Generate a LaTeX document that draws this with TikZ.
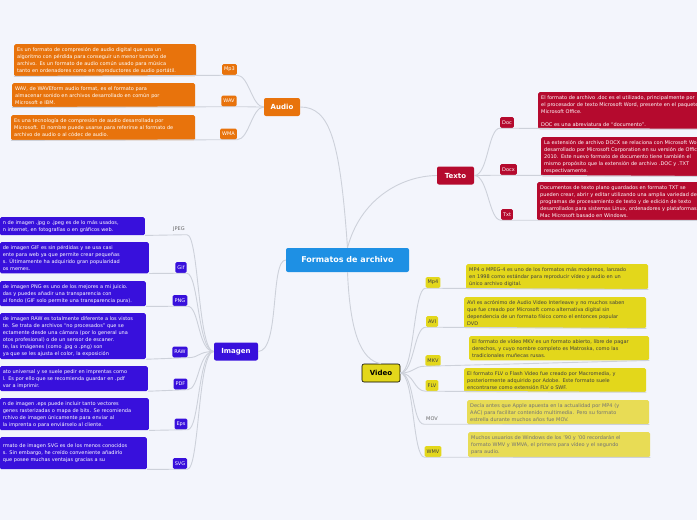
\documentclass[tikz,border=0pt]{standalone}
\usepackage{fontspec}
\setmainfont{DejaVu Sans}
\begin{document}
\begin{tikzpicture}[x=1pt,y=-1pt,
  desc/.style={anchor=north west,rounded corners=1.5pt,align=left,inner sep=3pt,font=\fontsize{5}{7}\selectfont,text=white},
  lab/.style={rounded corners=1.5pt,inner sep=2pt,font=\fontsize{5}{6}\selectfont,text=white,minimum height=11pt},
  main/.style={rounded corners=2pt,inner sep=3pt,font=\bfseries\fontsize{7}{8}\selectfont,text=white,minimum height=18pt},
  conn/.style={draw=lineg,line width=0.9pt},
]
\definecolor{bg}{HTML}{F3F5FC}
\definecolor{lineg}{HTML}{CDD1DA}
\definecolor{cblue}{HTML}{1E90E4}
\definecolor{corange}{HTML}{E8730C}
\definecolor{cviolet}{HTML}{3810DC}
\definecolor{cred}{HTML}{B50A2E}
\definecolor{cyel}{HTML}{E3D71B}
\definecolor{cyel2}{HTML}{E8DC55}
\clip (0,0) rectangle (697,520);
\fill[bg] (0,0) rectangle (697,520);
\useasboundingbox (0,0) rectangle (697,520);

% central
\node[main,fill=cblue,minimum width=123pt,minimum height=24pt,font=\bfseries\fontsize{8}{9}\selectfont] (c) at (347.5,260) {Formatos de archivo};
\node[main,fill=corange,minimum width=36pt] (audio) at (282,107) {Audio};
\node[main,fill=cviolet,minimum width=44pt] (imagen) at (236,351.5) {Imagen};
\node[main,fill=cred,minimum width=37pt] (texto) at (455.5,175.5) {Texto};
\node[main,fill=cyel,draw=black,line width=0.6pt,text=black,minimum width=38pt] (video) at (381,373) {Video};

\draw[conn] (c.north) .. controls (340,140) and (330,107) .. (audio.east);
\draw[conn] (c.west) .. controls (270,260) and (280,351) .. (imagen.east);
\draw[conn] (c.north) .. controls (360,200) and (400,176) .. (texto.west);
\draw[conn] (c.south) .. controls (350,330) and (360,360) .. (video.north);

% Audio
\node[desc,fill=corange,text width=176pt,minimum height=31pt] (dmp3) at (14,44) {Es un formato de compresión de audio digital que usa un\\algoritmo con pérdida para conseguir un menor tamaño de\\archivo. Es un formato de audio común usado para música\\tanto en ordenadores como en reproductores de audio portátil.};
\node[lab,fill=corange] (mp3) at (229.5,69.5) {Mp3};
\node[desc,fill=corange,text width=177pt,minimum height=24pt] (dwav) at (12,83) {WAV, de WAVEform audio format, es el formato para\\almacenar sonido en archivos desarrollado en común por\\Microsoft e IBM.};
\node[lab,fill=corange] (wav) at (229,101) {WAV};
\node[desc,fill=corange,text width=178pt,minimum height=25pt] (dwma) at (11,115) {Es una tecnología de compresión de audio desarrollada por\\Microsoft. El nombre puede usarse para referirse al formato de\\archivo de audio o al códec de audio.};
\node[lab,fill=corange] (wma) at (228.5,134) {WMA};
\foreach \l/\d in {mp3/dmp3,wav/dwav,wma/dwma}{
  \draw[conn] (\d.south west) -- (\l.south east) .. controls +(12,0) and +(-12,0) .. (audio.west);
}

% Imagen
\node[desc,fill=cviolet,text width=139pt,minimum height=17pt,anchor=north east] (djpeg) at (145,217) {n de imagen .jpg o .jpeg es de lo más usados,\\n internet, en fotografías o en gráficos web.};
\node[font=\fontsize{5}{6}\selectfont,text=black!60,inner sep=2pt,minimum height=11pt] (jpeg) at (179,229) {JPEG};
\node[desc,fill=cviolet,text width=143pt,minimum height=31pt,anchor=north east] (dgif) at (149,242) {de imagen GIF es sin pérdidas y se usa casi\\ente para web ya que permite crear pequeñas\\s. Últimamente ha adquirido gran popularidad\\os memes.};
\node[lab,fill=cviolet] (gif) at (181,267.5) {Gif};
\node[desc,fill=cviolet,text width=140pt,minimum height=25pt,anchor=north east] (dpng) at (146,281) {de imagen PNG es uno de los mejores a mi juicio.\\das y puedes añadir una transparencia con\\al fondo (GIF solo permite una transparencia pura).};
\node[lab,fill=cviolet] (png) at (180,300.5) {PNG};
\node[desc,fill=cviolet,text width=140pt,minimum height=45pt,anchor=north east] (draw) at (146,313) {de imagen RAW es totalmente diferente a los vistos\\te. Se trata de archivos ``no procesados'' que se\\ectamente desde una cámara (por lo general una\\otos profesional) o de un sensor de escaner.\\te, las imágenes (como .jpg o .png) son\\ ya que se les ajusta el color, la exposición};
\node[lab,fill=cviolet] (raw) at (180,352) {RAW};
\node[desc,fill=cviolet,text width=142pt,minimum height=24pt,anchor=north east] (dpdf) at (148,366) {ato universal y se suele pedir en imprentas como\\l. Es por ello que se recomienda guardar en .pdf\\var a imprimir.};
\node[lab,fill=cviolet] (pdf) at (180.5,384) {PDF};
\node[desc,fill=cviolet,text width=143pt,minimum height=32pt,anchor=north east] (deps) at (149,398) {n de imagen .eps puede incluir tanto vectores\\genes rasterizadas o mapa de bits. Se recomienda\\rchivo de imagen únicamente para enviar al\\ la imprenta o para enviárselo al cliente.};
\node[lab,fill=cviolet] (eps) at (181,424) {Eps};
\node[desc,fill=cviolet,text width=141pt,minimum height=32pt,anchor=north east] (dsvg) at (147,437) {rmato de imagen SVG es de los menos conocidos\\s. Sin embargo, he creído conveniente añadirlo\\ que posee muchas ventajas gracias a su};
\node[lab,fill=cviolet] (svg) at (180,463.5) {SVG};
\foreach \l/\d in {jpeg/djpeg,gif/dgif,png/dpng,raw/draw,pdf/dpdf,eps/deps,svg/dsvg}{
  \draw[conn] (\d.south east) -- (\l.south east) .. controls +(12,0) and +(-16,0) .. (imagen.west);
}

% Texto
\node[desc,fill=cred,text width=170pt,minimum height=36pt] (ddoc) at (538,92) {El formato de archivo .doc es el utilizado, principalmente por\\el procesador de texto Microsoft Word, presente en el paquete\\Microsoft Office.\\[6pt]DOC es una abreviatura de ``documento''.};
\node[lab,fill=cred] (doc) at (507,122.5) {Doc};
\node[desc,fill=cred,text width=170pt,minimum height=38pt] (ddocx) at (541,137) {La extensión de archivo DOCX se relaciona con Microsoft Word,\\desarrollado por Microsoft Corporation en su versión de Office\\2010. Este nuevo formato de documento tiene también el\\mismo propósito que la extensión de archivo .DOC y .TXT\\respectivamente.};
\node[lab,fill=cred] (docx) at (508.5,169.5) {Docx};
\node[desc,fill=cred,text width=170pt,minimum height=38pt] (dtxt) at (537,182) {Documentos de texto plano guardados en formato TXT se\\pueden crear, abrir y editar utilizando una amplia variedad de\\programas de procesamiento de texto y de edición de texto\\desarrollados para sistemas Linux, ordenadores y plataformas\\Mac Microsoft basado en Windows.};
\node[lab,fill=cred] (txt) at (507,214.5) {Txt};
\foreach \l/\d in {doc/ddoc,docx/ddocx,txt/dtxt}{
  \draw[conn] (texto.east) .. controls +(14,0) and +(-12,0) .. (\l.south west) -- (\d.south east);
}

% Video
\tikzset{ydesc/.style={desc,fill=cyel,text=black!75,text width=176pt}}
\node[ydesc,minimum height=24pt] (dmp4) at (466,264) {MP4 o MPEG-4 es uno de los formatos más modernos, lanzado\\en 1998 como estándar para reproducir vídeo y audio en un\\único archivo digital.};
\node[lab,fill=cyel,text=black!75] (mp4) at (433,282.5) {Mp4};
\node[ydesc,minimum height=30pt] (davi) at (464,297) {AVI es acrónimo de Audio Video Interleave y no muchos saben\\que fue creado por Microsoft como alternativa digital sin\\dependencia de un formato físico como el entonces popular\\DVD};
\node[lab,fill=cyel,text=black!75] (avi) at (432,321.5) {AVI};
\node[ydesc,minimum height=24pt,text width=174pt] (dmkv) at (469,336) {El formato de vídeo MKV es un formato abierto, libre de pagar\\derechos, y cuyo nombre completo es Matroska, como las\\tradicionales muñecas rusas.};
\node[lab,fill=cyel,text=black!75] (mkv) at (433,360.5) {MKV};
\node[ydesc,minimum height=23pt] (dflv) at (464,368) {El formato FLV o Flash Video fue creado por Macromedia, y\\posteriormente adquirido por Adobe. Este formato suele\\encontrarse como extensión FLV o SWF.};
\node[lab,fill=cyel,text=black!75] (flv) at (432,385.5) {FLV};
\node[ydesc,fill=cyel2,text=black!55,minimum height=24pt] (dmov) at (467,400) {Decía antes que Apple apuesta en la actualidad por MP4 (y\\AAC) para facilitar contenido multimedia. Pero su formato\\estrella durante muchos años fue MOV.};
\node[font=\fontsize{5}{6}\selectfont,text=black!60,inner sep=2pt,minimum height=11pt] (mov) at (432,418.5) {MOV};
\node[ydesc,fill=cyel2,text=black!55,minimum height=25pt] (dwmv) at (468,432) {Muchos usuarios de Windows de los '90 y '00 recordarán el\\formato WMV y WMVA, el primero para vídeo y el segundo\\para audio.};
\node[lab,fill=cyel,text=black!75] (wmv) at (433,451.5) {WMV};
\foreach \l/\d in {mp4/dmp4,avi/davi,mkv/dmkv,flv/dflv,mov/dmov,wmv/dwmv}{
  \draw[conn] (video.east) .. controls +(14,0) and +(-12,0) .. (\l.south west) -- (\d.south east);
}
\end{tikzpicture}
\end{document}
